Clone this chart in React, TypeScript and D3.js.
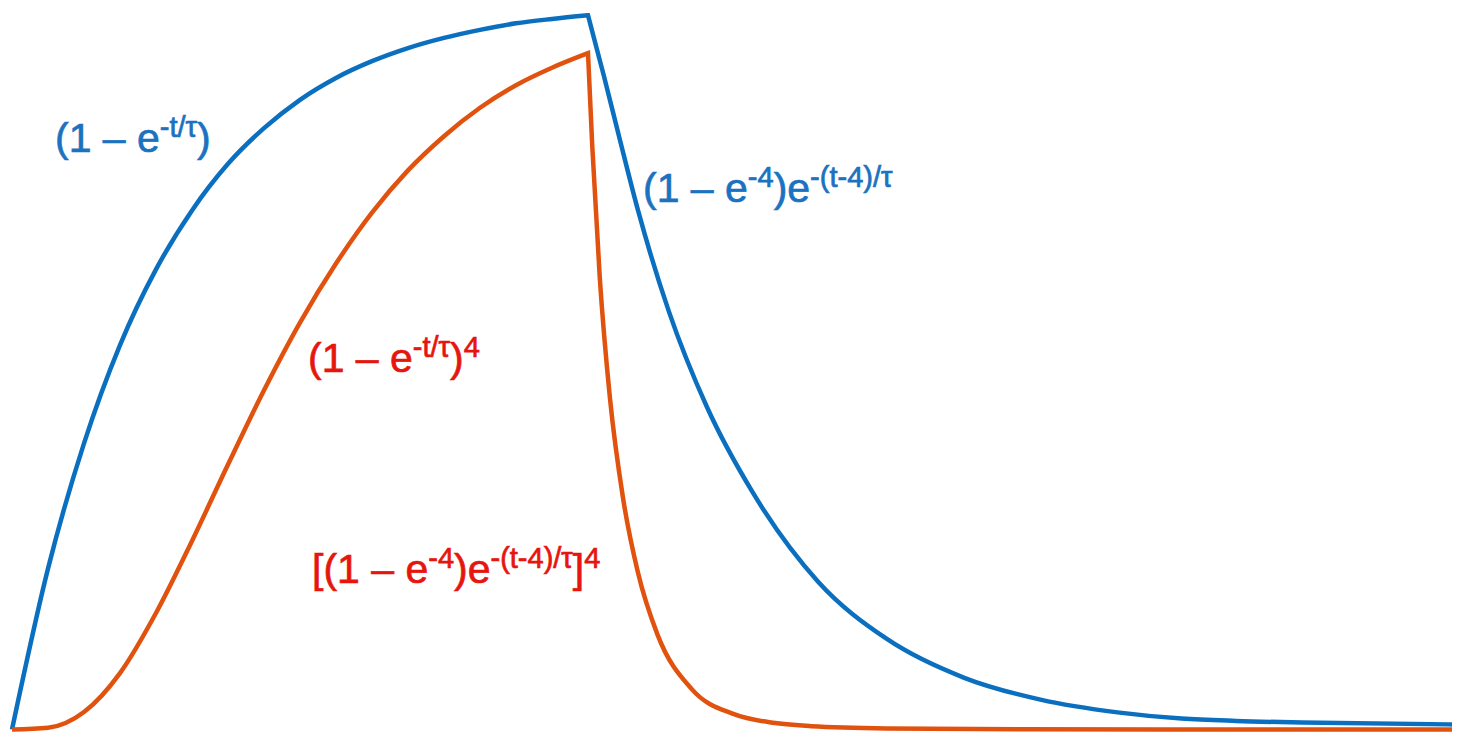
import React from "react";
import * as d3 from "d3";

// time axis (t in units of tau), rise phase 0..4
const riseT = [0, 0.25, 0.5, 0.75, 1, 1.25, 1.5, 1.75, 2, 2.25, 2.5, 2.75, 3, 3.25, 3.5, 3.75, 4];
const blueRise = [0, 0.221, 0.393, 0.528, 0.632, 0.713, 0.777, 0.826, 0.865, 0.895, 0.918, 0.936, 0.95, 0.961, 0.97, 0.976, 0.981];
const orangeRise = [0, 0.0024, 0.024, 0.0775, 0.16, 0.259, 0.364, 0.466, 0.559, 0.64, 0.71, 0.768, 0.815, 0.854, 0.885, 0.909, 0.929];

// decay phase 4..10
const blueDecayT = [4, 4.11, 4.214, 4.346, 4.562, 4.826, 5.146, 5.598, 6.078, 6.613, 7.142, 7.677, 8.122, 8.5, 8.96, 10];
const blueDecay = [0.981, 0.898, 0.816, 0.714, 0.574, 0.443, 0.325, 0.203, 0.124, 0.071, 0.041, 0.0235, 0.015, 0.0118, 0.0096, 0.007];
const orangeDecayT = [4, 4.03, 4.082, 4.152, 4.242, 4.346, 4.482, 4.722, 5.014, 5.3, 5.55, 6.078, 7, 8, 10];
const orangeDecay = [0.929, 0.8, 0.62, 0.456, 0.3195, 0.2163, 0.1307, 0.0551, 0.021, 0.0089, 0.0046, 0.0015, 0.0002, 0, 0];

type Part = { text: string; sup?: boolean };
const labels: { parts: Part[]; x: number; y: number; color: string }[] = [
  { parts: [{ text: "(1 – e" }, { text: "-t/τ", sup: true }, { text: ")" }], x: 55, y: 152, color: "#1a72c0" },
  {
    parts: [{ text: "(1 – e" }, { text: "-4", sup: true }, { text: ")e" }, { text: "-(t-4)/τ", sup: true }],
    x: 643,
    y: 202,
    color: "#1a72c0",
  },
  { parts: [{ text: "(1 – e" }, { text: "-t/τ", sup: true }, { text: ")" }, { text: "4", sup: true }], x: 308, y: 372, color: "#e6150e" },
  {
    parts: [
      { text: "[(1 – e" },
      { text: "-4", sup: true },
      { text: ")e" },
      { text: "-(t-4)/τ", sup: true },
      { text: "]" },
      { text: "4", sup: true },
    ],
    x: 312,
    y: 583,
    color: "#e6150e",
  },
];

const W = 1464;
const H = 749;

export default function App() {
  const x = d3.scaleLinear().domain([0, 10]).range([12, 1452]);
  const y = d3.scaleLinear().domain([0, 1]).range([729.5, 1.5]);
  const line = d3
    .line<[number, number]>()
    .x((d) => x(d[0]))
    .y((d) => y(d[1]))
    .curve(d3.curveMonotoneX);

  const build = (tA: number[], vA: number[], tB: number[], vB: number[]) => {
    const a = line(tA.map((t, i) => [t, vA[i]] as [number, number])) || "";
    const b = line(tB.map((t, i) => [t, vB[i]] as [number, number])) || "";
    return a + b.replace(/^M[^A-Za-z]*/, "");
  };

  const blueD = build(riseT, blueRise, blueDecayT, blueDecay);
  const orangeD = build(riseT, orangeRise, orangeDecayT, orangeDecay);

  const SUP = 15;

  return (
    <svg
      width={W}
      height={H}
      viewBox={`0 0 ${W} ${H}`}
      style={{ position: "absolute", left: 0, top: 0, background: "#fff" }}
    >
      <rect x={0} y={0} width={W} height={H} fill="#fff" />
      <path d={blueD} fill="none" stroke="#0b6fc0" strokeWidth={4.5} strokeLinejoin="miter" strokeMiterlimit={20} />
      <path d={orangeD} fill="none" stroke="#e0520e" strokeWidth={4.5} strokeLinejoin="miter" strokeMiterlimit={20} />
      {labels.map((l, i) => {
        let shift = 0;
        return (
          <text
            key={i}
            x={l.x}
            y={l.y}
            fill={l.color}
            stroke={l.color}
            strokeWidth={0.7}
            fontFamily="'Liberation Sans', Arial, sans-serif"
            fontSize={41}
          >
            {l.parts.map((p, j) => {
              const target = p.sup ? -SUP : 0;
              const dy = target - shift;
              shift = target;
              return (
                <tspan key={j} dy={dy} fontSize={p.sup ? 29 : 41}>
                  {p.text}
                </tspan>
              );
            })}
          </text>
        );
      })}
    </svg>
  );
}
